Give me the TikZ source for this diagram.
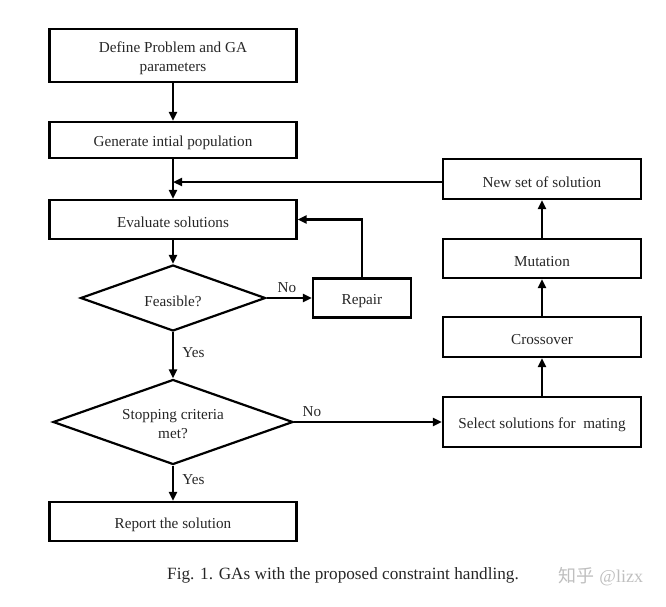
\documentclass[tikz,border=0pt]{standalone}
\usepackage{fontspec}
\setmainfont{Liberation Serif}
\newfontfamily\cjk{Noto Sans CJK SC}
\usetikzlibrary{arrows.meta,shapes.geometric}
\newcommand{\lowertxt}[1]{\raisebox{-3pt}[\height][\depth]{#1}}
\begin{document}
\begin{tikzpicture}[x=1pt,y=-1pt,
  every node/.style={font=\fontsize{15.2}{19}\selectfont,text=black!85},
  box/.style={draw,line width=2.2pt,rectangle,minimum width=247pt,align=center,inner sep=0pt},
  rbox/.style={draw,line width=2.2pt,rectangle,minimum width=198pt,align=center,inner sep=0pt},
  dec/.style={draw,line width=2.2pt,diamond,inner sep=0pt},
  arr/.style={line width=2.2pt,-{Triangle[length=9pt,width=8pt]}},
  lbl/.style={font=\fontsize{15.2}{19}\selectfont}]
\useasboundingbox (0,0) rectangle (666,606);
\node[box,minimum height=53pt] (def) at (173,55.5) {\lowertxt{\begin{tabular}{@{}c@{}}Define Problem and GA\\parameters\end{tabular}}};
\node[box,minimum height=36pt] (gen) at (173,140) {\lowertxt{Generate intial population}};
\node[box,minimum height=39pt] (eval) at (173,219.5) {\lowertxt{Evaluate solutions}};
\node[dec,minimum width=185pt,minimum height=66pt] (feas) at (173,298) {};
\node (feast) at (173,298) {\lowertxt{Feasible?}};
\node[draw,line width=2.2pt,minimum width=98pt,minimum height=39pt,inner sep=0pt] (rep) at (362,298) {\lowertxt{Repair}};
\node[dec,minimum width=240pt,minimum height=85pt] (stop) at (173,422) {};
\node (stopt) at (173,422) {\lowertxt{\begin{tabular}{@{}c@{}}Stopping criteria\\met?\end{tabular}}};
\node[box,minimum height=39pt] (report) at (173,521.5) {\lowertxt{Report the solution}};
\node[rbox,minimum height=40pt] (new) at (542,179) {\lowertxt{New set of solution}};
\node[rbox,minimum height=39pt] (mut) at (542,258.5) {\lowertxt{Mutation}};
\node[rbox,minimum height=40pt] (cross) at (542,337) {\lowertxt{Crossover}};
\node[rbox,minimum height=50pt] (sel) at (542,422) {\lowertxt{Select solutions for\ \ mating}};
\coordinate (merge) at (173,182);
\coordinate (newl) at (new.west |- merge);
\coordinate (evr) at (eval.east);
\coordinate (repup) at (rep.north |- evr);
\draw[arr] (def) -- (gen);
\draw[arr] (gen) -- (eval);
\draw[arr] (newl) -- (merge);
\draw[arr] (eval) -- (feas.north);
\draw[arr] (feas.east) -- node[above,lbl,pos=0.45,yshift=1pt] (no1) {No} (rep.west);
\draw[arr] (rep.north) -- (repup) -- (evr);
\draw[arr] (feas.south) -- node[right,lbl,xshift=5pt,pos=0.45] (yes1) {Yes} (stop.north);
\draw[arr] (stop.east) -- node[above,lbl,pos=0.12,yshift=1pt] (no2) {No} (sel.west);
\draw[arr] (sel) -- (cross);
\draw[arr] (cross) -- (mut);
\draw[arr] (mut) -- (new);
\draw[arr] (stop.south) -- node[right,lbl,xshift=5pt,pos=0.4] (yes2) {Yes} (report.north);
\node[font=\fontsize{17.2}{20}\selectfont] (cap) at (343,575) {Fig. 1. GAs with the proposed constraint handling.};
\node[font=\fontsize{18}{21}\selectfont, text=black!25] (wm) at (601,577) {{\cjk 知乎} @lizx};
\end{tikzpicture}
\end{document}
